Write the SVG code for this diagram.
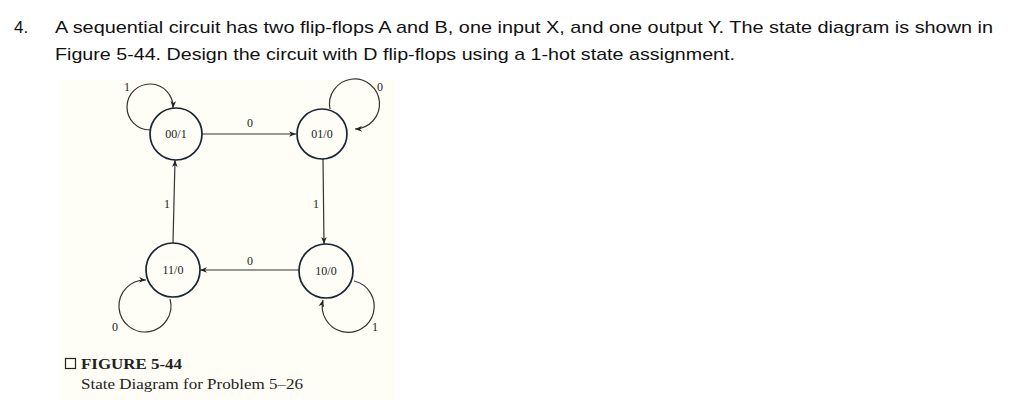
<svg xmlns="http://www.w3.org/2000/svg" width="1024" height="417" viewBox="0 0 1024 417">
<defs>
<marker id="ah" viewBox="0 0 10 10" refX="10" refY="5" markerWidth="7" markerHeight="7" orient="auto" markerUnits="userSpaceOnUse">
<path d="M0,1 L10,5 L0,9 L3,5 z" fill="#222"/>
</marker>
<style>
.q{font-family:"Liberation Sans",Arial,sans-serif;font-size:17px;fill:#111}
.st{fill:none;stroke:#1a2630;stroke-width:1.7}
.sl{font-family:"Liberation Serif","Times New Roman",serif;font-size:12px;fill:#222;text-anchor:middle}
.lb{font-family:"Liberation Serif","Times New Roman",serif;font-size:12px;fill:#222}
.ln{fill:none;stroke:#333;stroke-width:1.2}
.cap{font-family:"Liberation Serif","Times New Roman",serif;fill:#222}
</style>
</defs>
<rect width="1024" height="417" fill="#fff"/>
<rect x="60" y="80" width="335" height="320" fill="#fefdf6"/>
<text class="q" x="14" y="33">4.</text>
<text class="q" x="55" y="33" textLength="938" lengthAdjust="spacingAndGlyphs">A sequential circuit has two flip-flops A and B, one input X, and one output Y. The state diagram is shown in</text>
<text class="q" x="55" y="60" textLength="680" lengthAdjust="spacingAndGlyphs">Figure 5-44. Design the circuit with D flip-flops using a 1-hot state assignment.</text>
<g id="connectors">
<line class="ln" x1="202" y1="134" x2="296" y2="134" marker-end="url(#ah)"/>
<line class="ln" x1="323" y1="159" x2="324" y2="244" marker-end="url(#ah)"/>
<line class="ln" x1="299" y1="270" x2="200" y2="270" marker-end="url(#ah)"/>
<line class="ln" x1="173" y1="243" x2="175" y2="160" marker-end="url(#ah)"/>
<path class="ln" d="M150,130 A23,23 0 1 1 173,108" marker-end="url(#ah)"/>
<path class="ln" d="M330,109 A25,25 0 1 1 355,129" marker-end="url(#ah)"/>
<path class="ln" d="M170,299 A26,26 0 1 1 146,280" marker-end="url(#ah)"/>
<path class="ln" d="M354,281 A26,26 0 1 1 323,300" marker-end="url(#ah)"/>
<text class="lb" x="247" y="127">0</text>
<text class="lb" x="247" y="265">0</text>
<text class="lb" x="164" y="208">1</text>
<text class="lb" x="313" y="208">1</text>
<text class="lb" x="124" y="91">1</text>
<text class="lb" x="377" y="91">0</text>
<text class="lb" x="112" y="331">0</text>
<text class="lb" x="372" y="331">1</text>
</g>
<g id="s00"><circle class="st" cx="176" cy="134" r="26"/><text class="sl" x="176" y="138">00/1</text></g>
<g id="s01"><circle class="st" cx="322" cy="134" r="25"/><text class="sl" x="322" y="138">01/0</text></g>
<g id="s11"><circle class="st" cx="173" cy="270" r="27"/><text class="sl" x="173" y="274">11/0</text></g>
<g id="s10"><circle class="st" cx="326" cy="271" r="27"/><text class="sl" x="326" y="275">10/0</text></g>
<g id="caption">
<rect x="65.5" y="358.5" width="10" height="10" fill="none" stroke="#222" stroke-width="1.2"/>
<text class="cap" x="81" y="369" font-size="15" font-weight="bold" textLength="101" lengthAdjust="spacingAndGlyphs">FIGURE 5-44</text>
<text class="cap" x="81" y="389" font-size="15" textLength="222" lengthAdjust="spacingAndGlyphs">State Diagram for Problem 5–26</text>
</g>
</svg>
